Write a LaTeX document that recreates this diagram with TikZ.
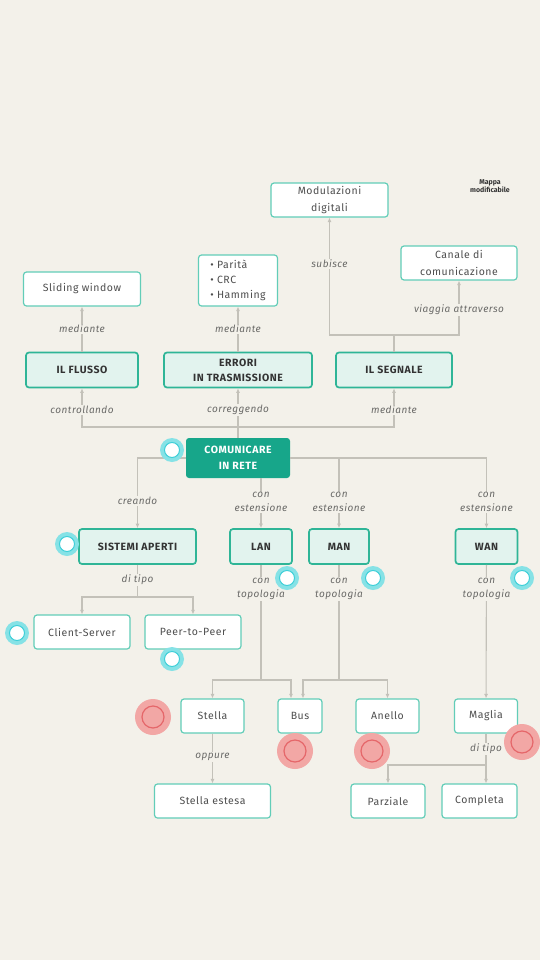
\documentclass[tikz,border=0pt]{standalone}
\usepackage{fontspec}
\setmainfont{Fira Sans}
\newfontfamily\mapfont[LetterSpace=5]{Fira Sans}
\usetikzlibrary{arrows.meta}
\definecolor{paper}{HTML}{F3F1EA}
\definecolor{leafline}{HTML}{62CDB8}
\definecolor{topicline}{HTML}{2FB597}
\definecolor{topicfill}{HTML}{E2F3EE}
\definecolor{rootfill}{HTML}{17A68A}
\definecolor{linkgray}{HTML}{C3C1B9}
\definecolor{verbtext}{HTML}{6A6A68}
\definecolor{boxtext}{HTML}{4E4E4E}
\definecolor{hintcyan}{HTML}{86E2E6}
\definecolor{hintring}{HTML}{3FCFD8}
\definecolor{warnred}{HTML}{F2A7A5}
\definecolor{warnring}{HTML}{E5676A}
\tikzset{
  leaf/.style={draw=leafline, fill=white, line width=1.2pt, rounded corners=3pt,
    minimum height=34pt, inner sep=2pt, align=center, text=boxtext,
    font=\mapfont\fontsize{10.5}{17}\selectfont},
  topic/.style={draw=topicline, fill=topicfill, line width=1.7pt, rounded corners=3pt,
    minimum height=35pt, inner sep=2pt, align=center, text=black!80,
    font=\mapfont\bfseries\fontsize{10.5}{15}\selectfont},
  root/.style={fill=rootfill, rounded corners=3pt, minimum height=40pt, inner sep=2pt,
    align=center, text=white, font=\mapfont\bfseries\fontsize{10.5}{16}\selectfont},
  verb/.style={fill=paper, inner sep=1pt, align=center, text=verbtext,
    font=\mapfont\itshape\fontsize{10}{13.5}\selectfont},
  line/.style={draw=linkgray, line width=1.1pt},
  link/.style={line, -{Latex[length=4.5pt,width=4pt]}},
  hint/.pic={\fill[hintcyan] (0,0) circle (12);
    \draw[hintring, fill=white, line width=1pt] (0,0) circle (7.5);},
  warn/.pic={\fill[warnred] (0,0) circle (18);
    \draw[warnring, line width=1.2pt] (0,0) circle (11);}
}
\begin{document}
\begin{tikzpicture}[x=1pt, y=-1pt]
  \fill[paper] (0,0) rectangle (540,960);
  \useasboundingbox (0,0) rectangle (540,960);

  \node[font=\bfseries\fontsize{7}{7.5}\selectfont, text=black!80, align=center] (mappa) at (490,186) {Mappa\\modificabile};

  \node[leaf, minimum width=117pt] (modul) at (329.5,200) {Modulazioni\\digitali};
  \node[leaf, minimum width=116pt] (canale) at (459,263) {Canale di\\comunicazione};
  \node[leaf, minimum width=117pt] (sliding) at (82,289) {Sliding window};
  \node[leaf, minimum width=79pt, minimum height=51pt, align=left, font=\mapfont\fontsize{10.5}{15}\selectfont] (codici) at (238,280.5)
    {\textbullet\ Parità\\\textbullet\ CRC\\\textbullet\ Hamming};

  \node[topic, minimum width=112pt] (flusso) at (82,370) {IL FLUSSO};
  \node[topic, minimum width=148pt] (errori) at (238,370) {ERRORI\\IN TRASMISSIONE};
  \node[topic, minimum width=116pt] (segnale) at (394,370) {IL SEGNALE};

  \node[root, minimum width=104pt] (rete) at (238,458) {COMUNICARE\\IN RETE};

  \node[topic, minimum width=117pt] (aperti) at (137.5,546.5) {SISTEMI APERTI};
  \node[topic, minimum width=62pt] (lan) at (261,546.5) {LAN};
  \node[topic, minimum width=60pt] (man) at (339,546.5) {MAN};
  \node[topic, minimum width=62pt] (wan) at (486.5,546.5) {WAN};

  \node[leaf, minimum width=96pt] (client) at (82,632) {Client-Server};
  \node[leaf, minimum width=96pt] (peer) at (193,632) {Peer-to-Peer};

  \node[leaf, minimum width=63pt] (stella) at (212.5,716) {Stella};
  \node[leaf, minimum width=44pt] (bus) at (300,716) {Bus};
  \node[leaf, minimum width=63pt] (anello) at (387.5,716) {Anello};
  \node[leaf, minimum width=63pt] (maglia) at (486,716) {Maglia};

  \node[leaf, minimum width=116pt] (estesa) at (212.5,801) {Stella estesa};
  \node[leaf, minimum width=74pt] (parziale) at (388,801) {Parziale};
  \node[leaf, minimum width=75pt] (completa) at (479.5,801) {Completa};

  % segnale
  \coordinate (sj) at (394,335);
  \draw[line] (segnale) -- (sj);
  \draw[link] (sj) -| (modul);
  \draw[link] (sj) -| (canale);
  \node[verb] (vsubisce) at (329.5,264) {subisce};
  \node[verb] (vviaggia) at (459,310) {viaggia attraverso};

  \draw[link] (flusso) -- (sliding);
  \node[verb] (vmed1) at (82,329) {mediante};
  \draw[link] (errori) -- (codici);
  \node[verb] (vmed2) at (238,329) {mediante};

  % comunicare in rete
  \coordinate (tj) at (238,427);
  \draw[line] (rete) -- (tj);
  \draw[link] (tj) -| (flusso);
  \draw[link] (tj) -- (errori);
  \draw[link] (tj) -| (segnale);
  \node[verb] (vcontr) at (82,410) {controllando};
  \node[verb] (vcorr) at (238,410) {correggendo};
  \node[verb] (vmed3) at (394,410) {mediante};

  \draw[link] (rete.west) -| (aperti);
  \draw[link] (rete.south -| lan) -- (lan);
  \draw[link] (rete.east) -| (man);
  \draw[link] (rete.east) -| (wan);
  \node[verb] (vcrea) at (137.5,501) {creando};
  \node[verb] (vest1) at (261,502) {con\\estensione};
  \node[verb] (vest2) at (339,502) {con\\estensione};
  \node[verb] (vest3) at (486.5,502) {con\\estensione};

  % sistemi aperti
  \coordinate (aj) at (137.5,597);
  \draw[line] (aperti) -- (aj);
  \draw[link] (aj) -| (client);
  \draw[link] (aj) -| (peer);
  \node[verb] (vtipo1) at (137.5,580) {di tipo};

  % topologie
  \coordinate (lj) at (261,680);
  \coordinate (mj) at (339,680);
  \draw[line] (lan) -- (lj);
  \draw[link] (lj) -| (stella);
  \draw[link] (lj) -| ([xshift=-9pt]bus.north);
  \draw[line] (man) -- (mj);
  \draw[link] (mj) -| ([xshift=3pt]bus.north);
  \draw[link] (mj) -| (anello);
  \draw[link] (wan) -- (maglia);
  \node[verb] (vtop1) at (261,589) {con\\topologia};
  \node[verb] (vtop2) at (339,589) {con\\topologia};
  \node[verb] (vtop3) at (486.5,589) {con\\topologia};

  \draw[link] (stella) -- (estesa);
  \node[verb] (voppure) at (212.5,757) {oppure};

  \coordinate (gj) at (486,765);
  \draw[line] (maglia) -- (gj);
  \draw[link] (gj) -| (parziale);
  \draw[link] (gj) -- (completa.north -| gj);
  \node[verb] (vtipo2) at (486,749) {di tipo};

  % marcatori
  \pic at (172,450) {hint};
  \pic at (67,544) {hint};
  \pic at (287,578) {hint};
  \pic at (373,578) {hint};
  \pic at (522,578) {hint};
  \pic at (17,633) {hint};
  \pic at (172,659) {hint};
  \pic at (153,717) {warn};
  \pic at (295,751) {warn};
  \pic at (372,751) {warn};
  \pic at (522,742) {warn};
\end{tikzpicture}
\end{document}
